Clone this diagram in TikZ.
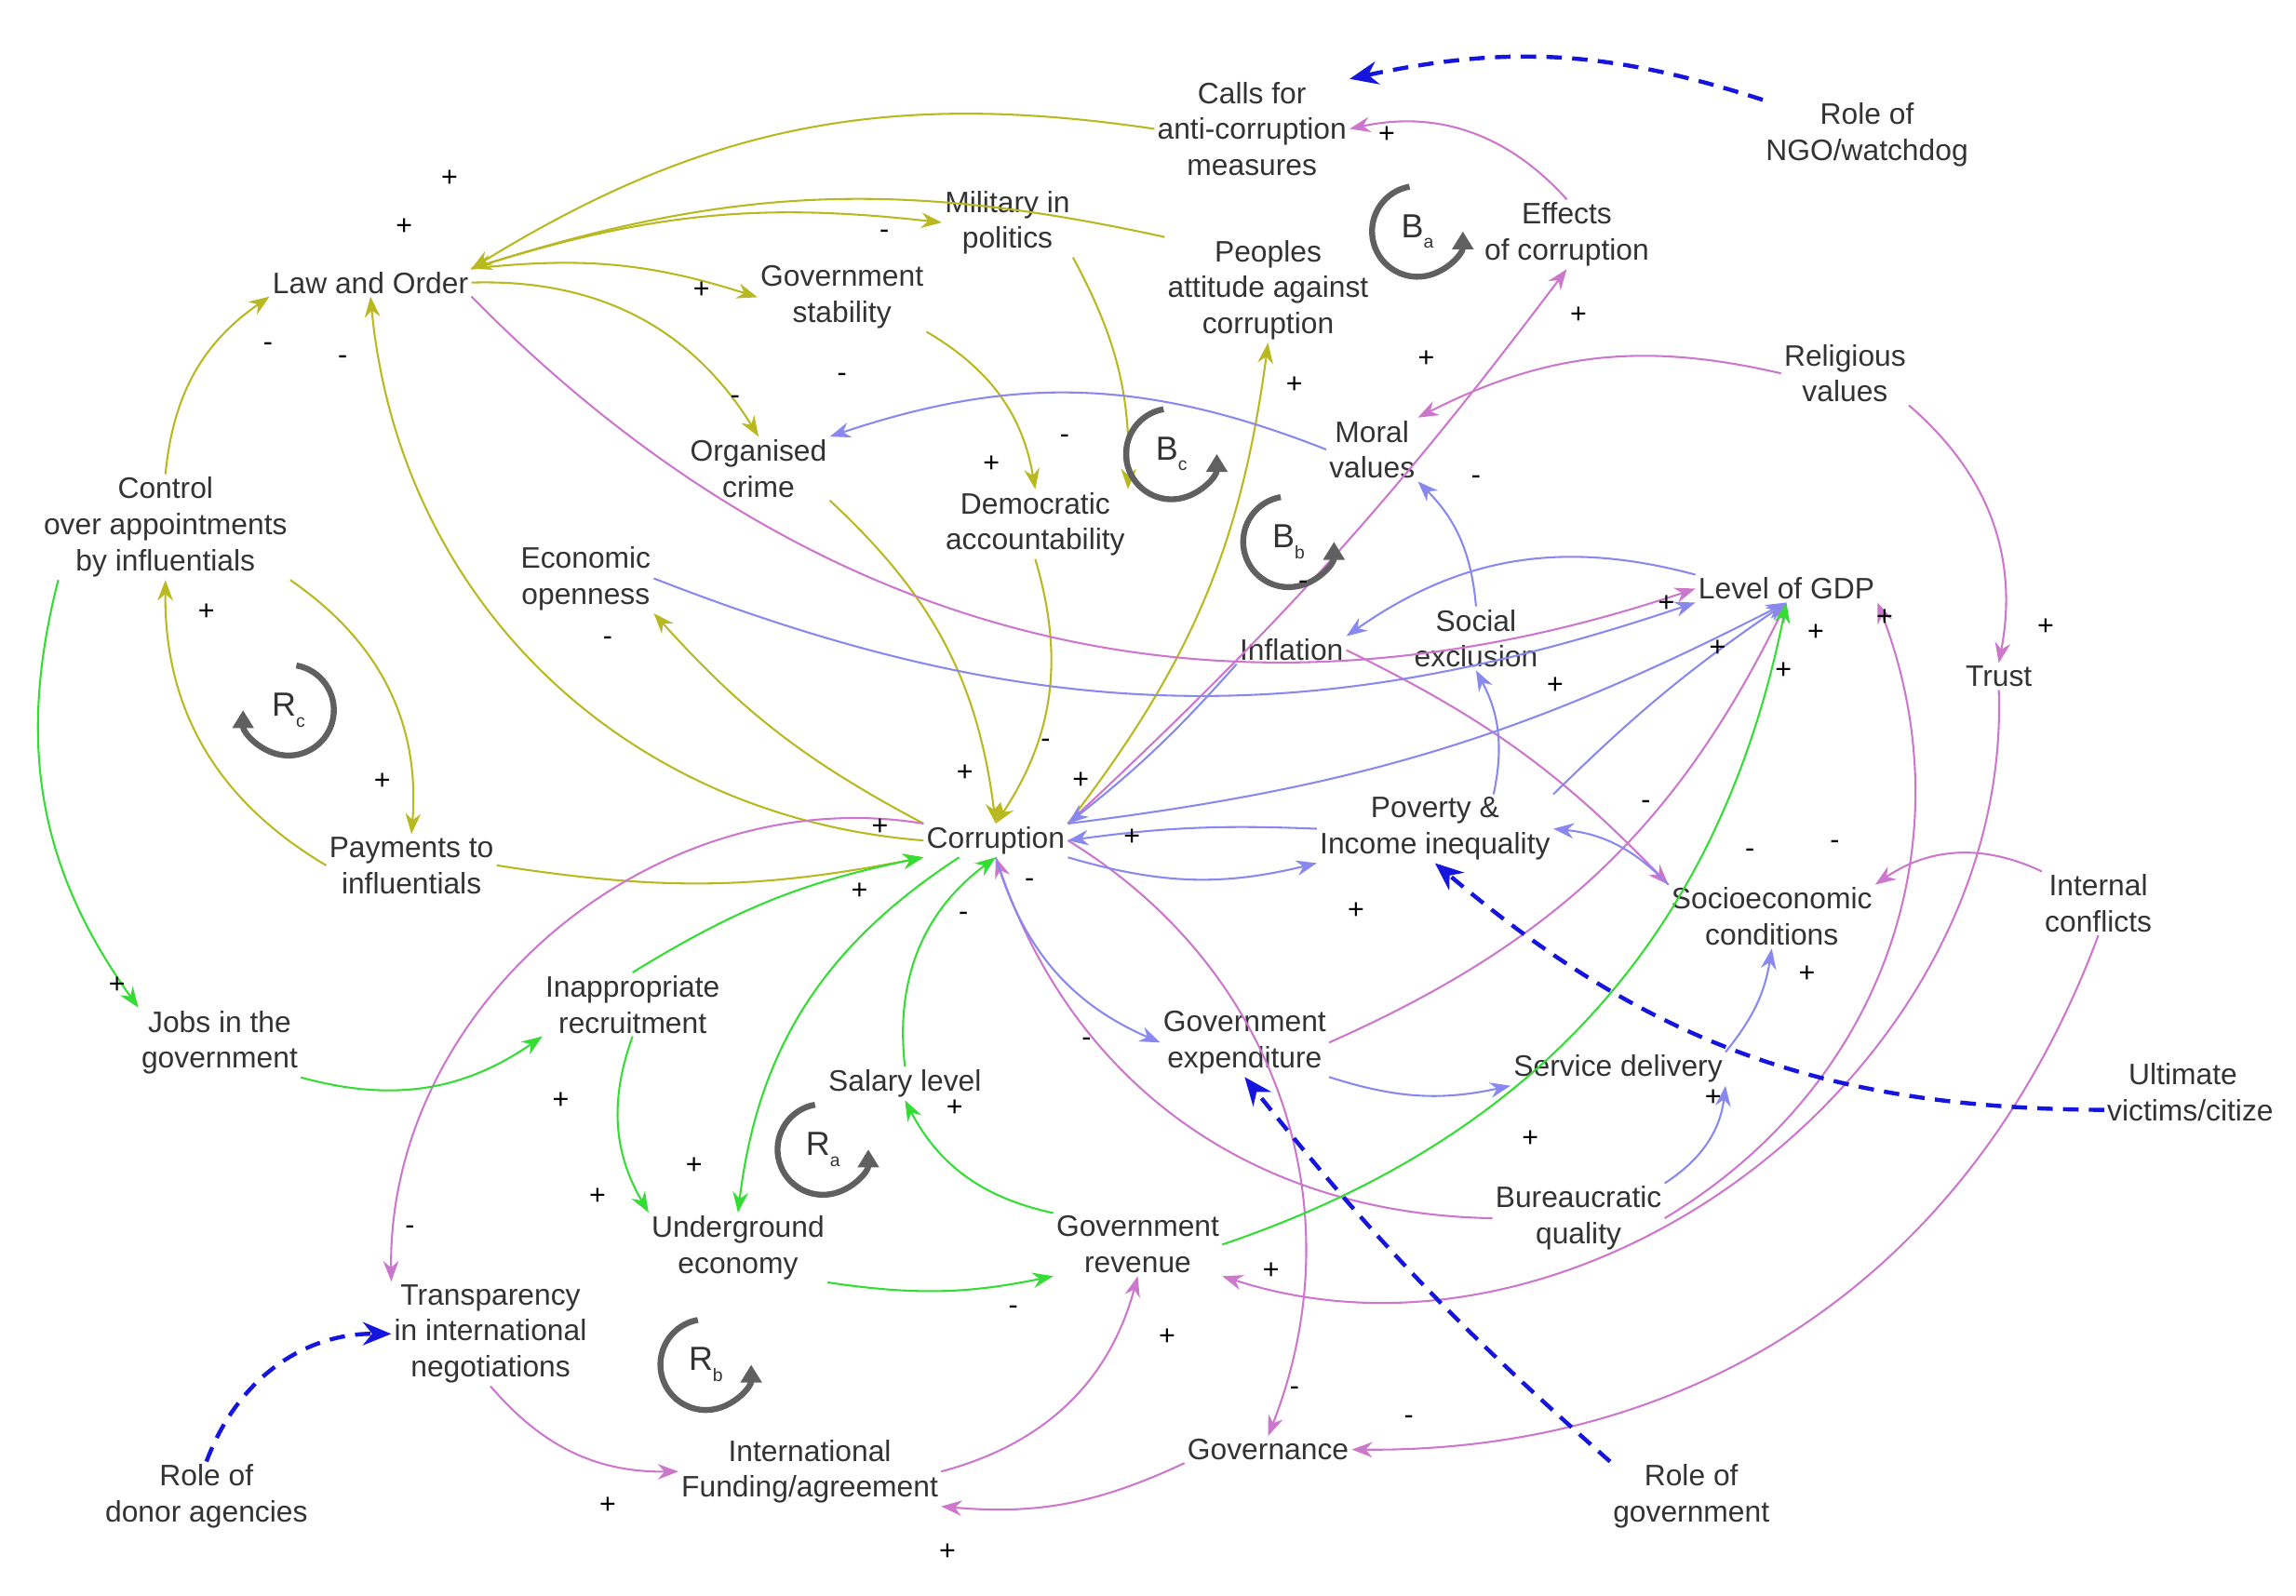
\documentclass[tikz,border=0pt]{standalone}
\usepackage{fontspec}
\setmainfont{Liberation Sans}
\usetikzlibrary{arrows.meta}
\definecolor{olv}{HTML}{B8B820}
\definecolor{vio}{HTML}{CC77CC}
\definecolor{lav}{HTML}{8888EE}
\definecolor{grn}{HTML}{33DD33}
\definecolor{dbl}{HTML}{1515DD}
\begin{document}
\begin{tikzpicture}[x=0.02cm,y=0.02cm,
  v/.style={align=center,font=\fontsize{11.5}{14}\selectfont,text=black!80,inner sep=1pt},
  sg/.style={font=\fontsize{11}{12}\selectfont,inner sep=0pt},
  e/.style={line width=0.75pt,-{Stealth[length=8pt,width=6pt]}},
  O/.style={e,olv}, P/.style={e,vio}, L/.style={e,lav}, G/.style={e,grn},
  D/.style={e,dbl,dashed,line width=1.6pt,dash pattern=on 6pt off 4pt,-{Stealth[length=11pt,width=9pt]}},
  loopst/.style={draw=gray!75!black,line width=2.3pt,-{Triangle[length=7pt,width=8pt]}}]
\useasboundingbox (0,0) rectangle (1568,-1090);
\node[v] (calls) at (855,-88) {Calls for\\anti-corruption\\measures};
\node[v] (ngo) at (1275,-92) {Role of\\NGO/watchdog};
\node[v] (mil) at (688,-152) {Military in\\politics};
\node[v] (law) at (253,-193) {Law and Order};
\node[v] (gs) at (575,-203) {Government\\stability};
\node[v] (peo) at (866,-198) {Peoples\\attitude against\\corruption};
\node[v] (eff) at (1070,-160) {Effects\\of corruption};
\node[v] (rel) at (1260,-255) {Religious\\values};
\node[v] (org) at (518,-320) {Organised\\crime};
\node[v] (mor) at (937,-307) {Moral\\values};
\node[v] (dem) at (707,-358) {Democratic\\accountability};
\node[v] (con) at (113,-360) {Control\\over appointments\\by influentials};
\node[v] (eco) at (400,-395) {Economic\\openness};
\node[v] (inf) at (882,-444) {Inflation};
\node[v] (soc) at (1008,-436) {Social\\exclusion};
\node[v] (gdp) at (1220,-402) {Level of GDP};
\node[v] (tru) at (1365,-462) {Trust};
\node[v] (pay) at (281,-591) {Payments to\\influentials};
\node[v] (cor) at (680,-574) {Corruption};
\node[v] (pov) at (980,-566) {Poverty \&\\Income inequality};
\node[v] (sec) at (1210,-626) {Socioeconomic\\conditions};
\node[v] (int) at (1433,-617) {Internal\\conflicts};
\node[v] (job) at (150,-712) {Jobs in the\\government};
\node[v] (ina) at (432,-686) {Inappropriate\\recruitment};
\node[v] (gex) at (850,-712) {Government\\expenditure};
\node[v] (ser) at (1105,-730) {Service delivery};
\node[v,align=left,anchor=west] (ult) at (1437,-746) {\hphantom{vi}Ultimate\\victims/citize};
\node[v] (sal) at (618,-740) {Salary level};
\node[v] (und) at (504,-852) {Underground\\economy};
\node[v] (rev) at (777,-850) {Government\\revenue};
\node[v] (bur) at (1078,-832) {Bureaucratic\\quality};
\node[v] (tra) at (335,-911) {Transparency\\in international\\negotiations};
\node[v] (ifa) at (553,-1005) {International\\Funding/agreement};
\node[v] (gov) at (866,-990) {Governance};
\node[v] (rgo) at (1155,-1022) {Role of\\government};
\node[v] (don) at (141,-1022) {Role of\\donor agencies};
% olive
\draw[O] (calls.west) to[bend right=20] (law.north east);
\draw[O] (peo.north west) to[bend right=15] (law.north east);
\draw[O] (law.north east) to[bend left=12] (mil.west);
\draw[O] (law.north east) to[bend left=12] (gs.west);
\draw[O] (law.east) to[bend left=30] (org.north);
\draw[O] (mil.south east) to[bend left=15] (dem.north east);
\draw[O] (gs.south east) to[bend left=25] (dem.north);
\draw[O] (org.south east) to[bend left=20] (cor.north);
\draw[O] (dem.south) to[bend left=25] (cor.north);
\draw[O] (cor.north east) to[bend right=15] (peo.south);
\draw[O] (cor.west) to[bend left=40] (law.south);
\draw[O] (con.north) to[bend left=25] (law.south west);
\draw[O] (con.south east) to[bend left=30] (pay.north);
\draw[O] (pay.west) to[bend left=30] (con.south);
\draw[O] (pay.east) to[bend right=10] (cor.south west);
\draw[O] (cor.north west) to[bend left=10] (eco.south east);
% violet
\draw[P] (law.south east) to[bend right=32] (gdp.west);
\draw[P] (eff.north) to[bend right=30] (calls.east);
\draw[P] (cor.north east) to[bend right=5] (eff.south);
\draw[P] (rel.west) to[bend right=20] (mor.north east);
\draw[P] (rel.south east) to[bend left=30] (tru.north);
\draw[P] (tru.south) to[bend left=55] (rev.south east);
\draw[P] (int.south) to[bend left=35] (gov.east);
\draw[P] (int.north west) to[bend right=30] (sec.north east);
\draw[P] (bur.east) to[bend right=40] (gdp.south east);
\draw[P] (inf.east) to[bend left=10] (sec.north west);
\draw[P] (gex.east) to[bend right=20] (gdp.south);
\draw[P] (bur.west) to[bend left=35] (cor.south);
\draw[P] (cor.east) to[bend left=40] (gov.north);
\draw[P] (cor.north west) to[bend right=50] (tra.north west);
\draw[P] (tra.south) to[bend right=25] (ifa.west);
\draw[P] (ifa.east) to[bend right=30] (rev.south);
\draw[P] (gov.south west) to[bend left=15] (ifa.south east);
% lavender
\draw[L] (mor.west) to[bend right=20] (org.north east);
\draw[L] (soc.north) to[bend right=20] (mor.south east);
\draw[L] (gdp.north west) to[bend right=25] (inf.north east);
\draw[L] (inf.south west) to[bend left=5] (cor.north east);
\draw[L] (eco.east) to[bend right=20] (gdp.south west);
\draw[L] (cor.north east) to[bend right=10] (gdp.south);
\draw[L] (pov.west) to[bend right=5] (cor.east);
\draw[L] (cor.south east) to[bend right=15] (pov.south west);
\draw[L] (pov.north) ++(40,0) to[bend right=20] (soc.south);
\draw[L] (pov.north east) to[bend left=5] (gdp.south);
\draw[L] (sec.north west) to[bend right=20] (pov.east);
\draw[L] (cor.south) to[bend right=25] (gex.west);
\draw[L] (gex.south east) to[bend right=15] (ser.south west);
\draw[L] (ser.north east) to[bend right=15] (sec.south);
\draw[L] (bur.north east) to[bend right=25] (ser.south east);
% green
\draw[G] (con.south west) ++(12,0) to[bend right=25] (job.north west);
\draw[G] (job.south east) to[bend right=25] (ina.south west);
\draw[G] (ina.north) to[bend left=10] (cor.south west);
\draw[G] (ina.south) to[bend right=25] (und.north west);
\draw[G] (cor.south) ++(-25,0) to[bend right=25] (und.north);
\draw[G] (und.south east) to[bend right=10] (rev.south west);
\draw[G] (rev.north west) to[bend left=25] (sal.south);
\draw[G] (sal.north) to[bend left=30] (cor.south);
\draw[G] (rev.east) to[bend right=30] (gdp.south);
% dashed
\draw[D] (ngo.north west) to[bend right=15] (calls.north east);
\draw[D] (ult.west) ++(0,-12) to[bend left=20] (pov.south);
\draw[D] (rgo.north west) to[bend left=5] (gex.south);
\draw[D] (don.north) to[bend left=35] (tra.west);
% loops
\foreach \n/\x/\y/\l/\s in {la/968/-158/B/a,lc/800/-310/B/c,lb/880/-370/B/b,lra/562/-785/R/a,lrb/482/-932/R/b}{
  \node[v,font=\fontsize{13}{14}\selectfont] (\n) at (\x,\y) {\l\raisebox{-0.6ex}{\scriptsize\s}};
  \draw[loopst] (\n.center) ++(100:0.62cm) arc[start angle=100,end angle=360,radius=0.62cm];}
\node[v,font=\fontsize{13}{14}\selectfont] (lrc) at (197,-485) {R\raisebox{-0.6ex}{\scriptsize c}};
\draw[loopst] (lrc.center) ++(80:0.62cm) arc[start angle=80,end angle=-180,radius=0.62cm];
% signs
\foreach \x/\y/\s [count=\i] in {307/122/+,276/155/+,604/160/-,479/198/+,502/273/-,727/300/-,677/317/+,714/508/-,738/533/+,659/528/+,183/237/-,234/246/-,261/534/+,141/418/+,587/609/+,601/565/+,415/438/-,947/92/+,1078/215/+,974/245/+,1397/428/+,868/868/+,962/970/-,1253/577/-,1195/583/-,884/263/+,575/258/-,1008/328/-,890/400/-,1138/412/+,1173/443/+,1062/468/+,1218/458/+,1240/432/+,1287/422/+,1124/550/-,926/622/+,742/712/-,1045/778/+,1234/665/+,1170/750/+,773/572/+,884/950/-,658/626/-,703/603/-,280/840/-,415/1028/+,797/913/+,647/1060/+,80/673/+,383/752/+,408/817/+,474/796/+,692/895/-,652/757/+}
  \node[sg] (s\i) at (\x,-\y) {\s};
\end{tikzpicture}
\end{document}
